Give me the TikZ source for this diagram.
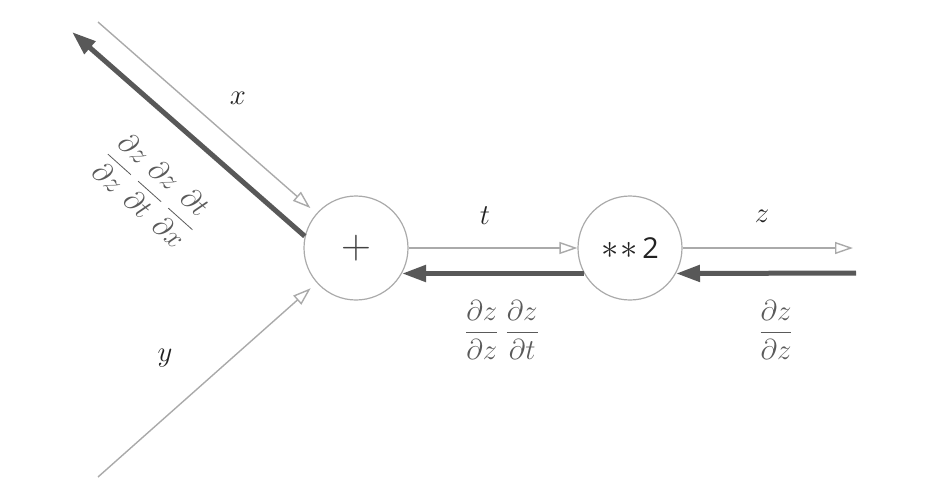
\documentclass[tikz,border=0pt]{standalone}
\usepackage{fontspec}
\newfontfamily\opsans{Open Sans}
\usetikzlibrary{arrows.meta,calc}
\definecolor{GraphInk}{HTML}{222222}
\definecolor{GraphLine}{HTML}{AAAAAA}
\definecolor{GraphBack}{HTML}{585858}
\definecolor{GraphMuted}{HTML}{5A5A5A}
\tikzset{
  cg/op/.style={
    circle, draw=GraphLine, line width=.6pt, fill=white,
    minimum size=52pt, inner sep=0pt, font=\Large
  },
  cg/forward/.style={
    -{Triangle[open,length=9pt,width=6pt]}, line width=.7pt, draw=GraphLine
  },
  cg/backward/.style={
    -{Triangle[length=12pt,width=8pt]}, line width=2.5pt, draw=GraphBack
  },
  cg/var/.style={font=\Large, text=GraphInk},
  cg/grad/.style={font=\Large, text=GraphMuted}
}
\begin{document}
\begin{tikzpicture}[x=.5pt,y=-.5pt]
  \useasboundingbox (0,0) rectangle (928,489);
  % operation nodes
  \node[cg/op,font=\huge,text=GraphInk!85] (plus) at (356,248) {$+$};
  \node[cg/op,font=\Large\opsans,text=GraphInk] (sq) at (630,248)
    {{\LARGE$\ast\mkern1mu\ast$}\,2};
  % free ends
  \coordinate (xin) at (98,22);
  \coordinate (yin) at (98,477);
  \coordinate (zout) at (853,248);
  \coordinate (zback) at (856,273);
  \coordinate (xback) at (72,32);
  % forward pass
  \draw[cg/forward,shorten >=4pt] (xin) -- (plus);
  \draw[cg/forward,shorten >=4pt] (yin) -- (plus);
  \draw[cg/forward] (plus) -- (sq);
  \draw[cg/forward] (sq) -- (zout);
  % backward pass
  \draw[cg/backward] (zback) -- (sq.-29);
  \draw[cg/backward] (sq.209) -- (plus.-29);
  \draw[cg/backward] (plus.167.6) -- (xback);
  % labels
  \node[cg/var] (xlab) at (238,98) {$x$};
  \node[cg/var] (ylab) at (165,358) {$y$};
  \node[cg/var] (tlab) at (485,216) {$t$};
  \node[cg/var] (zlab) at (762,216) {$z$};
  \node[cg/grad] (gt) at (502,330)
    {$\displaystyle\frac{\partial z}{\partial z}\,\frac{\partial z}{\partial t}$};
  \node[cg/grad] (gz) at (776,330)
    {$\displaystyle\frac{\partial z}{\partial z}$};
  \node[cg/grad,rotate=-41.8] (gx) at (152,190)
    {$\displaystyle\frac{\partial z}{\partial z}\,\frac{\partial z}{\partial t}\,\frac{\partial t}{\partial x}$};
\end{tikzpicture}
\end{document}
